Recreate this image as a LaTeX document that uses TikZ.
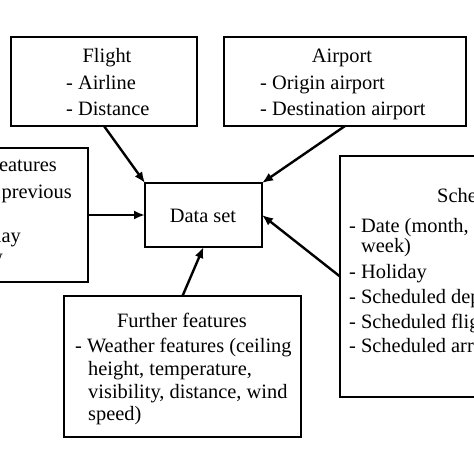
\documentclass[tikz,border=0pt]{standalone}
\usepackage{fontspec}
\setmainfont{Liberation Serif}
\usetikzlibrary{arrows.meta}
\begin{document}
\begin{tikzpicture}[x=1pt,y=-1pt,
  box/.style={draw, line width=2.6pt, inner sep=0pt, outer sep=0pt},
  txt/.style={inner sep=0pt, font=\fontsize{20.4}{24}\selectfont},
  conn/.style={line width=2.4pt, -{Latex[length=11pt,width=9pt]}}]
\useasboundingbox (0,0) rectangle (474,474);
\fill[white] (0,0) rectangle (474,474);
\clip (0,0) rectangle (474,474);

% boxes
\node[box, minimum width=186pt, minimum height=89pt] (flight) at (104,81.5) {};
\node[box, minimum width=242pt, minimum height=89pt] (airport) at (345,81.5) {};
\node[box, minimum width=228pt, minimum height=134pt] (hist) at (-26,215) {};
\node[box, minimum width=117pt, minimum height=64pt] (data) at (203.5,215) {};
\node[box, minimum width=260pt, minimum height=241pt] (sched) at (470,276.5) {};
\node[box, minimum width=237pt, minimum height=141pt] (further) at (182.5,366.5) {};

% Flight
\node[txt, anchor=base] (fl0) at (107,62) {Flight};
\node[txt, anchor=base west] (fl1) at (66,89) {- Airline};
\node[txt, anchor=base west] (fl2) at (66,115) {- Distance};

% Airport
\node[txt, anchor=base] (ap0) at (342,62) {Airport};
\node[txt, anchor=base west] (ap1) at (260,89) {- Origin airport};
\node[txt, anchor=base west] (ap2) at (260,115) {- Destination airport};

% Historical (cropped)
\node[txt, anchor=base east] (hi0) at (57,171) {Historical features};
\node[txt, anchor=base east] (hi1) at (72,198) {- Delay of previous};
\node[txt, anchor=base east] (hi3) at (21,242) {- Departure delay};
\node[txt, anchor=base east] (hi4) at (3,263) {- Traffic flow};

% Data set
\node[txt, anchor=base] (ds) at (203,222) {Data set};

% Schedule (cropped)
\node[txt, anchor=base west] (sc0) at (437,202) {Schedule};
\node[txt, anchor=base west] (sc1) at (349,232) {- Date (month, day of};
\node[txt, anchor=base west] (sc2) at (361,252) {week)};
\node[txt, anchor=base west] (sc3) at (349,278) {- Holiday};
\node[txt, anchor=base west] (sc4) at (349,303) {- Scheduled departure time};
\node[txt, anchor=base west] (sc5) at (349,328) {- Scheduled flight time};
\node[txt, anchor=base west] (sc6) at (349,352) {- Scheduled arrival time};

% Further features
\node[txt, anchor=base] (ff0) at (182,327) {Further features};
\node[txt, anchor=base west] (ff1) at (75,352) {- Weather features (ceiling};
\node[txt, anchor=base west] (ff2) at (88,375) {height, temperature,};
\node[txt, anchor=base west] (ff3) at (88,398) {visibility, distance, wind};
\node[txt, anchor=base west] (ff4) at (88,420) {speed)};

% connectors
\draw[conn] (flight.south) -- (data.north west);
\draw[conn] (airport.south) -- (data.north east);
\draw[conn] (hist.east) -- (data.west);
\draw[conn] (further.north) -- (data.south);
\draw[conn] (sched.west) -- (data.east);
\end{tikzpicture}
\end{document}
